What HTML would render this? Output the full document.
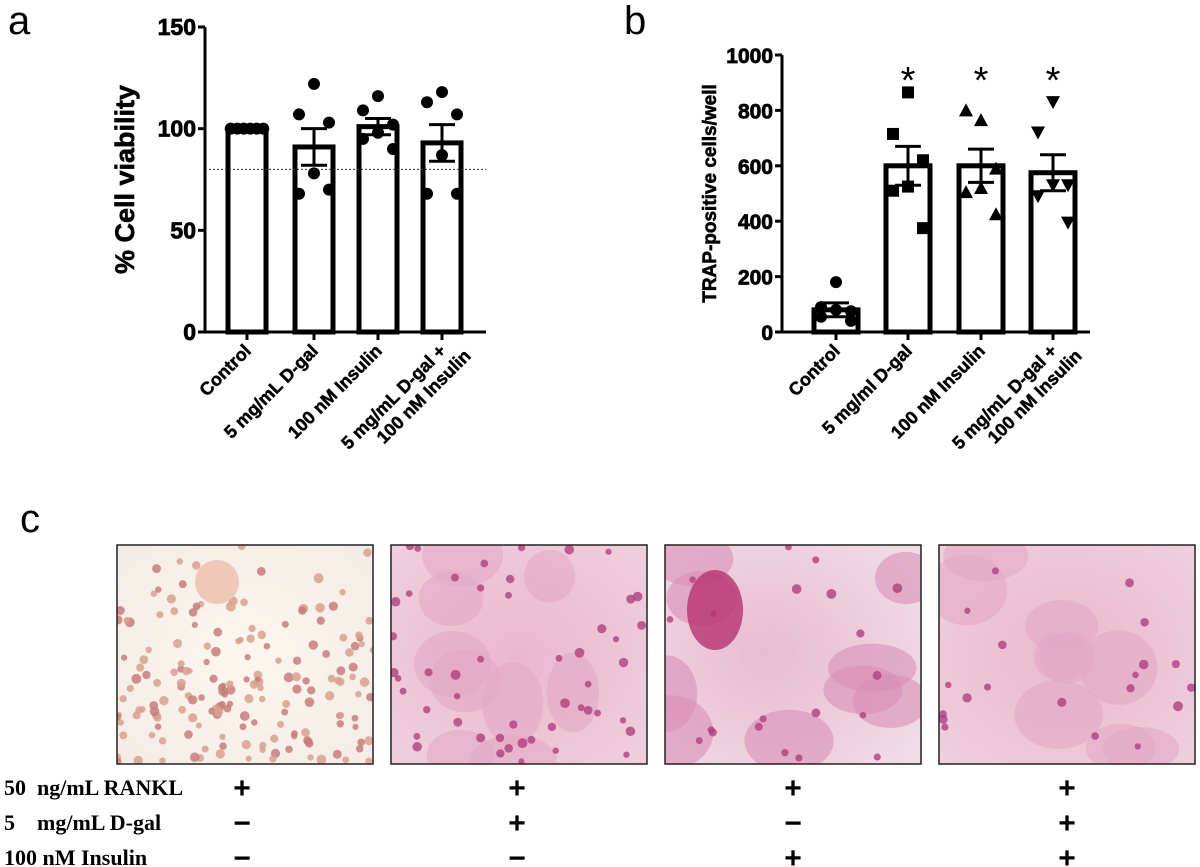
<!DOCTYPE html>
<html><head><meta charset="utf-8"><style>
html,body{margin:0;padding:0;background:#fff;}
svg{display:block;font-family:"Liberation Sans",Arial,sans-serif;}
.rl{white-space:pre;}
</style></head><body>
<svg id="fig" width="1200" height="867" viewBox="0 0 1200 867" xmlns="http://www.w3.org/2000/svg">
<defs id="defs">
<radialGradient id="g1" cx="50%" cy="50%" r="70%"><stop offset="0" stop-color="#fbf6ee"/><stop offset="1" stop-color="#f3ece6"/></radialGradient>
<radialGradient id="g2" cx="50%" cy="50%" r="70%"><stop offset="0" stop-color="#eab8cf"/><stop offset="1" stop-color="#efd0dc"/></radialGradient>
<radialGradient id="g3" cx="40%" cy="50%" r="70%"><stop offset="0" stop-color="#e7bcd2"/><stop offset="1" stop-color="#f1dbe4"/></radialGradient>
</defs>
<text x="8" y="34" font-size="40">a</text>
<text x="624" y="34" font-size="40">b</text>
<text x="20" y="532" font-size="40">c</text>
<g id="chartA"></g>
<g id="chartB"></g>
<g id="panelC"></g>
</svg>
<script>
const NS="http://www.w3.org/2000/svg";
const categories=["Control","5 mg/mL D-gal","100 nM Insulin","5 mg/mL D-gal +|100 nM Insulin"];
const categoriesB=["Control","5 mg/ml D-gal","100 nM Insulin","5 mg/mL D-gal +|100 nM Insulin"];
const meansA=[100,91,101,93];
const semA=[0,9,4,9];
const pointsA=[[100,100,100,100,100,100],[122,107,103,78,68,70],[116,109,102,98,95,90],[118,113,107,87,68,68]];
const ticksA=[0,50,100,150];
const meansB=[80,600,600,575];
const semB=[25,70,60,65];
const pointsB=[[180,90,75,80,55,40],[865,715,620,525,510,375],[765,800,590,520,505,425],[830,720,530,530,490,395]];
const ticksB=[0,200,400,600,800,1000];
const markers=["circle","square","up","down"];
const rows=["50  ng/mL RANKL","5    mg/mL D-gal","100 nM Insulin"];
const signs=[["+","+","+","+"],["−","+","−","+"],["−","−","+","+"]];

function mk(tag,attrs,parent){const e=document.createElementNS(NS,tag);for(const k in attrs)e.setAttribute(k,attrs[k]);parent.appendChild(e);return e;}

function drawChart(g,cfg){
  const {x0,x1,yTop,yBot,max,ticks,means,sem,pts,cats,centers,bw,title,mk:mType,stars,titleX,tickFont}=cfg;
  const y=v=>yBot-(v/max)*(yBot-yTop);
  let ax=mk('line',{x1:x0,y1:yTop,x2:x0,y2:yBot+1.5,stroke:'#000','stroke-width':3},g);
  
  let bx=mk('line',{x1:x0-1.5,y1:yBot,x2:x1,y2:yBot,stroke:'#000','stroke-width':3},g);
  
  ticks.forEach(t=>{
    mk('line',{x1:x0-7,y1:y(t),x2:x0,y2:y(t),stroke:'#000','stroke-width':3},g);
    const tx=mk('text',{x:x0-9,y:y(t)+8,'text-anchor':'end','font-size':tickFont,'font-weight':'bold',stroke:'#000','stroke-width':0.8},g);
    tx.textContent=t;
    
  });
  const tt=mk('text',{transform:`translate(${titleX},${(yTop+yBot)/2}) rotate(-90)`,'text-anchor':'middle','font-size':cfg.titleSize,'font-weight':'bold',stroke:'#000','stroke-width':0.6},g);
  tt.textContent=title;
  means.forEach((m,i)=>{
    const cx=centers[i];
    const b=mk('rect',{x:cx-bw/2,y:y(m),width:bw,height:yBot-y(m),fill:'#fff',stroke:'#000','stroke-width':5},g);
    
    mk('line',{x1:cx,y1:yBot+1,x2:cx,y2:yBot+8,stroke:'#000','stroke-width':3},g);
    const n=pts[i].length;
    pts[i].forEach((v,j)=>{
      const off=(m===100&&sem[i]===0)?(j-(n-1)/2)*6.5:[0,-15,15,0,-15,15][j%6];
      const px=cx+off,py=y(v),r=6;let p;
      const t=mType?mType[i]:'circle';
      if(t==='circle')p=mk('circle',{cx:px,cy:py,r:r,fill:'#000'},g);
      else if(t==='square')p=mk('rect',{x:px-6,y:py-6,width:12,height:12,fill:'#000'},g);
      else if(t==='up')p=mk('polygon',{points:`${px-7},${py+6} ${px+7},${py+6} ${px},${py-7}`,fill:'#000'},g);
      else p=mk('polygon',{points:`${px-7},${py-6} ${px+7},${py-6} ${px},${py+7}`,fill:'#000'},g);
      
    });
    if(sem[i]>0){
      const e=mk('path',{d:`M${cx},${y(m-sem[i])}V${y(m+sem[i])}M${cx-13},${y(m+sem[i])}H${cx+13}M${cx-13},${y(m-sem[i])}H${cx+13}`,stroke:'#000','stroke-width':3,fill:'none'},g);
      
    }
    if(stars&&stars[i]){const s=mk('text',{x:cx,y:y(max)+38,'text-anchor':'middle','font-size':38},g);s.textContent='*';
      }
    const lines=cats[i].split('|');
    const lab=mk('text',{transform:`translate(${cx+5},${yBot+20}) rotate(-45)`,'text-anchor':'end','font-size':18,'font-weight':'bold',stroke:'#000','stroke-width':0.5},g);
    lines.forEach((l,k)=>{const ts=mk('tspan',{x:(k?14:0),dy:k?21:0},lab);ts.textContent=l;});
    
  });
}
drawChart(document.getElementById('chartA'),{x0:205,x1:486,yTop:27,yBot:332,max:150,ticks:ticksA,means:meansA,sem:semA,pts:pointsA,cats:categories,centers:[247,314,378,442],bw:38,title:'% Cell viability',titleSize:27,titleX:134,tickFont:23});
const dl=mk('line',{x1:205,y1:332-80/150*305,x2:486,y2:332-80/150*305,stroke:'#333','stroke-width':1,'stroke-dasharray':'2,2'},document.getElementById('chartA'));

drawChart(document.getElementById('chartB'),{x0:782,x1:1090,yTop:55,yBot:332,max:1000,ticks:ticksB,means:meansB,sem:semB,pts:pointsB,cats:categoriesB,centers:[836,908,981,1053],bw:44,title:'TRAP-positive cells/well',titleSize:19,titleX:716,tickFont:21,mk:markers,stars:[0,1,1,1]});

const pc=document.getElementById('panelC');
const defs=document.getElementById('defs');
const imgs=[[117,'url(#g1)'],[391,'url(#g2)'],[665,'url(#g3)'],[939,'url(#g2)']];
let seed=7;function rnd(){seed=(seed*9301+49297)%233280;return seed/233280;}
imgs.forEach((im,i)=>{
  const cp=mk('clipPath',{id:'clip'+i},defs);
  mk('rect',{x:im[0],y:545,width:256,height:219},cp);
  const gi=mk('g',{'clip-path':`url(#clip${i})`},pc);
  mk('rect',{x:im[0],y:545,width:256,height:219,fill:im[1]},gi);
  if(i===0){for(let k=0;k<180;k++){const yy=545+219*Math.pow(rnd(),0.6);mk('circle',{cx:im[0]+256*rnd(),cy:yy,r:3+2*rnd(),fill:rnd()>0.5?'#c97b7b':'#d9a08e',opacity:0.85},gi);}
   mk('circle',{cx:im[0]+100,cy:582,r:22,fill:'#efc8b8'},gi);}
  else{for(let k=0;k<9;k++)mk('ellipse',{cx:im[0]+256*rnd(),cy:545+219*rnd(),rx:25+20*rnd(),ry:22+20*rnd(),fill:i===2?'#d98fb5':'#e2a8c4',opacity:0.6},gi);
   for(let k=0;k<(i===1?50:20);k++)mk('circle',{cx:im[0]+256*rnd(),cy:545+219*rnd(),r:3+2*rnd(),fill:'#b0407a',opacity:0.8},gi);
   if(i===2){mk('ellipse',{cx:im[0]+50,cy:610,rx:28,ry:40,fill:'#b8326f',opacity:0.8},gi);}}
  const fr=mk('rect',{x:im[0],y:545,width:256,height:219,fill:'none',stroke:'#222','stroke-width':1.5},pc);
  
});
rows.forEach((r,i)=>{
  const yy=795+i*35;
  const t=mk('text',{x:4,y:yy,'font-size':22,'font-weight':'bold','font-family':'"Liberation Serif",serif','class':'rl'},pc);
  t.textContent=r;
  [242,517,793,1067].forEach((x,j)=>{
    const s=mk('text',{x:x,y:yy+3,'text-anchor':'middle','font-size':30,'font-weight':'bold'},pc);
    s.textContent=signs[i][j];
  });
});
</script>
</body></html>
